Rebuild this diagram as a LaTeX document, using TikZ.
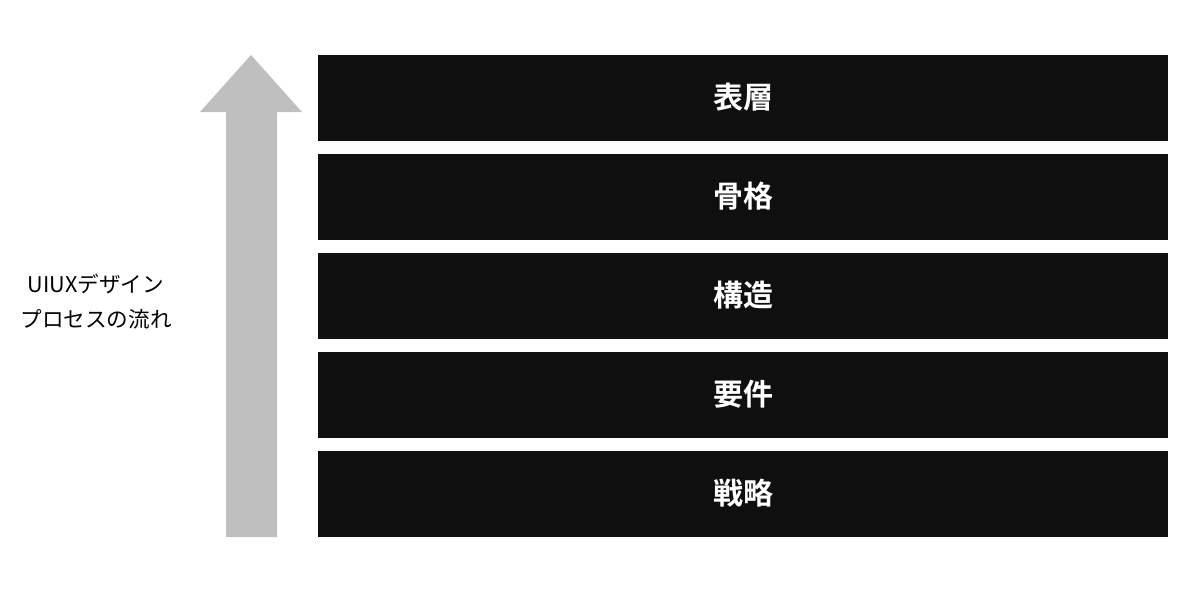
\documentclass[tikz,border=0pt]{standalone}
\usepackage{fontspec}
\newfontfamily\jpfont{Noto Sans CJK JP}
\newfontfamily\jpbold{Noto Sans CJK JP Bold}
\usetikzlibrary{positioning}
\tikzset{
    layer/.style = {
        fill = black!94,
        text = white,
        minimum width=425pt,
        minimum height=43pt,
        inner sep=0pt,
        outer sep=0pt,
        font=\jpbold\fontsize{15pt}{17pt}\selectfont,
        },
    caption/.style = {
        font=\jpfont\fontsize{10.8pt}{17.5pt}\selectfont,
        align=center,
        },
    flow/.style = {
        fill = black!25,
        },
}
\begin{document}
\begin{tikzpicture}[x=0.5pt, y=-0.5pt, node distance=6.5pt]
            \useasboundingbox (0,0) rectangle (1200,590);
            \node[layer] (surface) at (743,97.5) {表層};
            \node[layer, below=of surface] (skeleton) {骨格};
            \node[layer, below=of skeleton] (structure) {構造};
            \node[layer, below=of structure] (scope) {要件};
            \node[layer, below=of scope] (strategy) {戦略};

            \fill[flow] (226,537) -- (226,112) -- (200,112) -- (251,55)
                -- (302,112) -- (277,112) -- (277,537) -- cycle;

            \node[caption] (process) at (96,302) {UIUXデザイン\\プロセスの流れ};
        \end{tikzpicture}
\end{document}
